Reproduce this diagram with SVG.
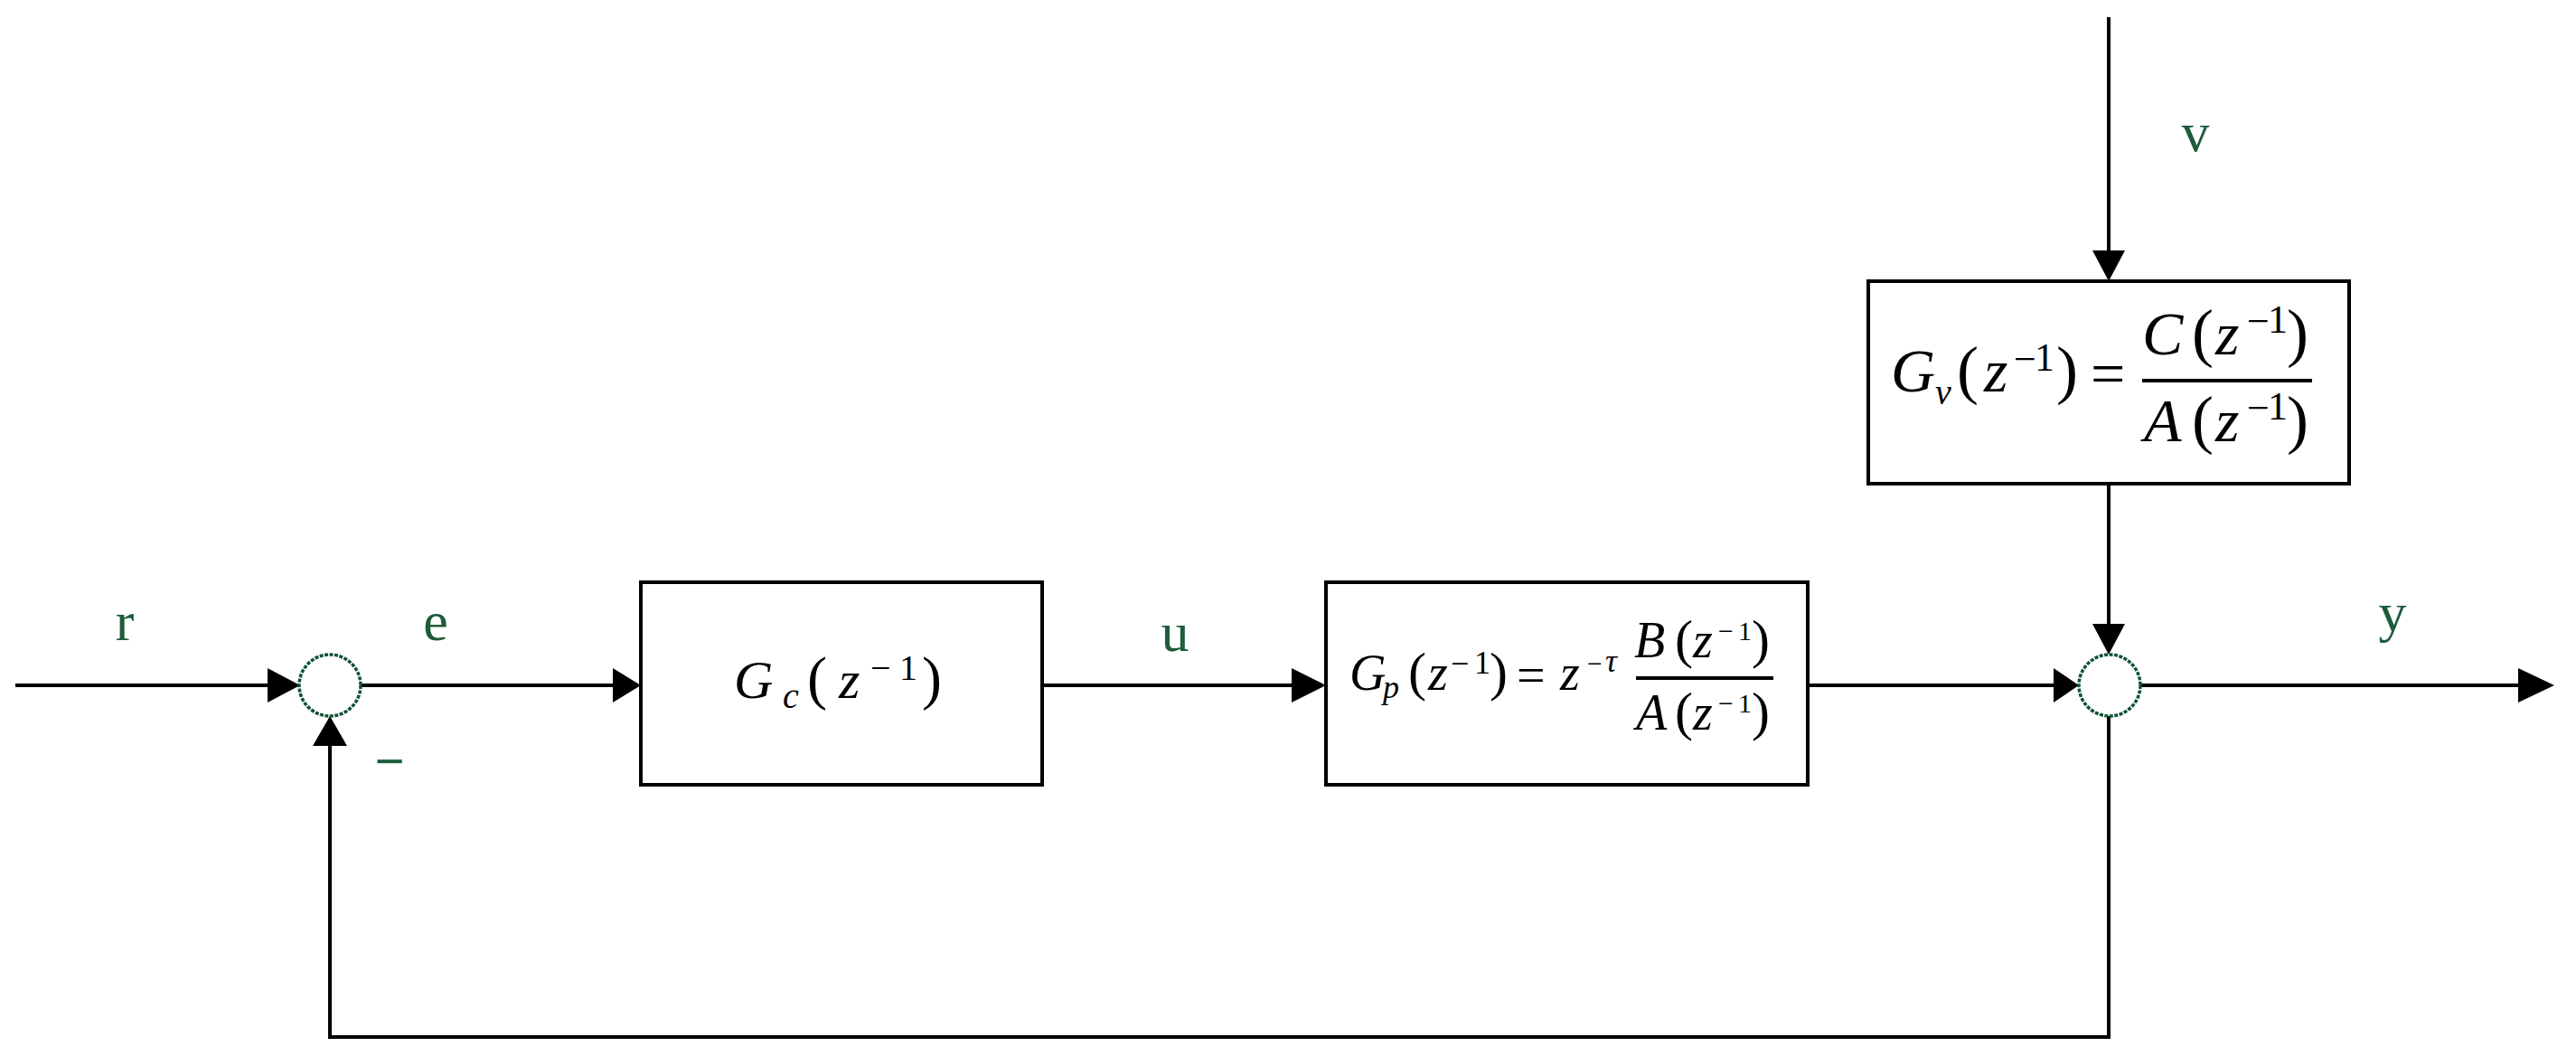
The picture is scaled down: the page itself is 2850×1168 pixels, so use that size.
<svg xmlns="http://www.w3.org/2000/svg" width="2850" height="1168" viewBox="0 0 2850 1168">
<style>
.box{fill:#fff;stroke:#000;stroke-width:4}
.ln{fill:none;stroke:#000;stroke-width:4}
.ah{fill:#000}
.sum{fill:#fff;stroke:#0f5434;stroke-width:3.5;stroke-dasharray:4 1.5}
.lab{font-family:"Liberation Serif","Times New Roman",serif;font-size:62px;fill:#1d5c3c;text-anchor:middle}
.it{font-family:"Liberation Serif","Times New Roman",serif;font-style:italic;fill:#000}
.rm{font-family:"Liberation Serif","Times New Roman",serif;fill:#000}
</style>
<rect width="2850" height="1168" fill="#fff"/>
<g id="connectors">
  <line class="ln" x1="17" y1="758" x2="300" y2="758"/>
  <polygon class="ah" points="296,739 332,758 296,777"/>
  <line class="ln" x1="399" y1="758" x2="680" y2="758"/>
  <polygon class="ah" points="678,739 709,758 678,777"/>
  <line class="ln" x1="1153" y1="758" x2="1432" y2="758"/>
  <polygon class="ah" points="1429,739 1467,758 1429,777"/>
  <line class="ln" x1="2000" y1="758" x2="2272" y2="758"/>
  <polygon class="ah" points="2272,739 2300,758 2272,777"/>
  <line class="ln" x1="2368" y1="758" x2="2790" y2="758"/>
  <polygon class="ah" points="2786,739 2826,758 2786,777"/>
  <line class="ln" x1="2333" y1="19" x2="2333" y2="280"/>
  <polygon class="ah" points="2315,277 2333,311 2351,277"/>
  <line class="ln" x1="2333" y1="535" x2="2333" y2="692"/>
  <polygon class="ah" points="2315,690 2333,724 2351,690"/>
  <polyline class="ln" points="2333,792 2333,1147 365,1147 365,823"/>
  <polygon class="ah" points="346,825 365,792 384,825"/>
</g>
<g id="sum1">
  <circle class="sum" cx="365" cy="758" r="34"/>
</g>
<g id="sum2">
  <circle class="sum" cx="2334" cy="758" r="34"/>
</g>
<g id="Gc">
  <rect class="box" x="709" y="644" width="444" height="224"/>
  <text class="it" x="812" y="772" font-size="60">G</text>
  <text class="it" x="866" y="783" font-size="40">c</text>
  <text class="rm" x="893" y="772" font-size="66">(</text>
  <text class="it" x="928" y="772" font-size="60">z</text>
  <text class="rm" x="963" y="752" font-size="40">−</text>
  <text class="rm" x="995" y="752" font-size="40">1</text>
  <text class="rm" x="1020" y="772" font-size="66">)</text>
</g>
<g id="Gp">
  <rect class="box" x="1467" y="644" width="533" height="224"/>
  <text class="it" x="1493" y="763" font-size="56">G</text>
  <text class="it" x="1530" y="772" font-size="36">p</text>
  <text class="rm" x="1558" y="763" font-size="60">(</text>
  <text class="it" x="1580" y="763" font-size="56">z</text>
  <text class="rm" x="1605" y="746" font-size="36">−</text>
  <text class="rm" x="1631" y="745" font-size="36">1</text>
  <text class="rm" x="1648" y="763" font-size="60">)</text>
  <text class="rm" x="1678" y="766" font-size="56">=</text>
  <text class="it" x="1726" y="763" font-size="56">z</text>
  <text class="rm" x="1756" y="744" font-size="30">−</text>
  <text class="it" x="1776" y="743" font-size="36">τ</text>
  <line x1="1810" y1="750" x2="1962" y2="750" stroke="#000" stroke-width="4"/>
  <text class="it" x="1808" y="727" font-size="56">B</text>
  <text class="rm" x="1853" y="727" font-size="60">(</text>
  <text class="it" x="1873" y="727" font-size="56">z</text>
  <text class="rm" x="1901" y="708" font-size="30">−</text>
  <text class="rm" x="1923" y="708" font-size="30">1</text>
  <text class="rm" x="1938" y="727" font-size="60">)</text>
  <text class="it" x="1810" y="807" font-size="56">A</text>
  <text class="rm" x="1853" y="807" font-size="60">(</text>
  <text class="it" x="1873" y="807" font-size="56">z</text>
  <text class="rm" x="1901" y="788" font-size="30">−</text>
  <text class="rm" x="1923" y="788" font-size="30">1</text>
  <text class="rm" x="1938" y="807" font-size="60">)</text>
</g>
<g id="Gv">
  <rect class="box" x="2067" y="311" width="532" height="224"/>
  <text class="it" x="2092" y="433" font-size="68">G</text>
  <text class="it" x="2141" y="447" font-size="40">v</text>
  <text class="rm" x="2165" y="433" font-size="72">(</text>
  <text class="it" x="2195" y="433" font-size="68">z</text>
  <text class="rm" x="2228" y="412" font-size="44">−</text>
  <text class="rm" x="2251" y="410" font-size="44">1</text>
  <text class="rm" x="2275" y="433" font-size="72">)</text>
  <text class="rm" x="2313" y="436" font-size="68">=</text>
  <line x1="2370" y1="421" x2="2558" y2="421" stroke="#000" stroke-width="4"/>
  <text class="it" x="2370" y="392" font-size="68">C</text>
  <text class="rm" x="2425" y="392" font-size="72">(</text>
  <text class="it" x="2451" y="392" font-size="68">z</text>
  <text class="rm" x="2486" y="370" font-size="44">−</text>
  <text class="rm" x="2509" y="368" font-size="44">1</text>
  <text class="rm" x="2530" y="392" font-size="72">)</text>
  <text class="it" x="2372" y="488" font-size="68">A</text>
  <text class="rm" x="2425" y="488" font-size="72">(</text>
  <text class="it" x="2451" y="488" font-size="68">z</text>
  <text class="rm" x="2486" y="466" font-size="44">−</text>
  <text class="rm" x="2509" y="464" font-size="44">1</text>
  <text class="rm" x="2530" y="488" font-size="72">)</text>
</g>
<g id="labels">
  <text class="lab" x="138" y="708">r</text>
  <text class="lab" x="482" y="708">e</text>
  <text class="lab" x="1300" y="720">u</text>
  <text class="lab" x="2429" y="167">v</text>
  <text class="lab" x="2647" y="698">y</text>
  <text x="431" y="861" font-family="Liberation Sans, Arial, sans-serif" font-size="56" fill="#1d5c3c" text-anchor="middle">−</text>
</g>
</svg>
